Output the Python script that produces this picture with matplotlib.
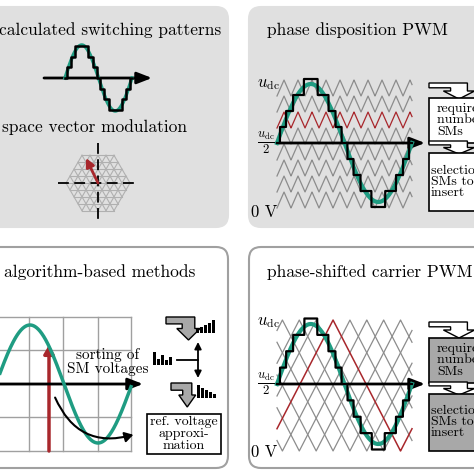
import numpy as np
import matplotlib.pyplot as plt
from matplotlib.patches import FancyBboxPatch, Polygon, FancyArrowPatch, Rectangle

plt.rcParams['font.family'] = ['cmr10', 'DejaVu Serif']
plt.rcParams['mathtext.fontset'] = 'cm'
plt.rcParams['axes.formatter.use_mathtext'] = True

TEAL = '#1f9c82'
RED = '#a8272c'
GRAY = '#8c8c8c'

titles = ['calculated switching patterns', 'phase disposition PWM',
          'algorithm-based methods', 'phase-shifted carrier PWM']
svm_label = 'space vector modulation'
box_texts = ['required\nnumber of\nSMs', 'selection of\nSMs to\ninsert']
sort_label = 'sorting of\nSM voltages'
approx_label = 'ref. voltage\napproxi-\nmation'
bars_sorted = [0.35, 0.5, 0.65, 0.8, 1.0]
bars_unsorted = [1.0, 0.5, 0.8, 0.35, 0.6]
bars_desc = [1.0, 0.8, 0.6, 0.45, 0.3]
n_levels_tl = 3
n_carriers = 8

fig = plt.figure(figsize=(4.74, 4.74), dpi=100)
ax = fig.add_axes([0, 0, 1, 1])
ax.set_xlim(0, 474)
ax.set_ylim(474, 0)
ax.axis('off')


def panel(x0, y0, x1, y1, fc, ec):
    ax.add_patch(FancyBboxPatch((x0, y0), x1 - x0, y1 - y0,
                                boxstyle='round,pad=0,rounding_size=12',
                                fc=fc, ec=ec, lw=1.5, zorder=0))


def harrow(x0, x1, y, lw=2):
    ax.annotate('', xy=(x1, y), xytext=(x0, y),
                arrowprops=dict(arrowstyle='-|>,head_length=0.9,head_width=0.35',
                                color='black', lw=lw, shrinkA=0, shrinkB=0), zorder=5)


def bend_arrow(x, y, w, h, fc):
    # block arrow: bar to the right, then down with head
    sx0, sx1 = x + 0.45 * w, x + 0.8 * w
    hx0, hx1 = x + 0.3 * w, x + 0.95 * w
    tip = ((hx0 + hx1) / 2, y + h)
    pts = [(x, y), (sx1, y), (sx1, y + 0.5 * h), (hx1, y + 0.5 * h), tip,
           (hx0, y + 0.5 * h), (sx0, y + 0.5 * h), (sx0, y + 0.3 * h), (x, y + 0.3 * h)]
    ax.add_patch(Polygon(pts, closed=True, fc=fc, ec='black', lw=1, zorder=5))


def bar_icon(x, y, vals, w=3.0, h=13):
    for i, v in enumerate(vals):
        ax.add_patch(Rectangle((x + i * (w + 1), y + h * (1 - v)), w, h * v,
                               fc='black', ec='none', zorder=5))


panel(-12, 7, 228, 227, '#e0e0e0', '#e0e0e0')
panel(249, 7, 490, 227, '#e0e0e0', '#e0e0e0')
panel(-12, 247, 228, 468, 'white', '#a0a0a0')
panel(249, 247, 490, 468, 'white', '#a0a0a0')

tfs = 12.5
ax.text(110, 30, titles[0], ha='center', va='center', fontsize=tfs)
ax.text(357, 30, titles[1], ha='center', va='center', fontsize=tfs)
ax.text(100, 272, titles[2], ha='center', va='center', fontsize=tfs)
ax.text(370, 272, titles[3], ha='center', va='center', fontsize=tfs)
ax.text(95, 127, svm_label, ha='center', va='center', fontsize=tfs)

# --- calculated switching patterns
harrow(44, 152, 78, lw=2)
t = np.linspace(0, 1, 400)
xs = 65 + 67 * t
sine = np.sin(2 * np.pi * t)
ax.plot(xs, 78 - 33 * sine, color=TEAL, lw=2.5, zorder=6)
stairs = np.round(sine * n_levels_tl) / n_levels_tl
ax.plot(xs, 78 - 32 * stairs, color='black', lw=1.8, zorder=7, drawstyle='steps-mid')

# --- space vector hexagon (triangular grid)
cx, cy, R = 98, 183, 32
k = 4
s = R / k
for i in range(-k, k + 1):
    for ang in (0, 60, 120):
        a = np.deg2rad(ang)
        d = np.array([np.cos(a), np.sin(a)])
        nrm = np.array([-d[1], d[0]])
        p = np.array([cx, cy]) + nrm * i * s * np.sqrt(3) / 2
        L = R * (1 - abs(i) / (2 * k))
        ax.plot([p[0] - d[0] * L, p[0] + d[0] * L], [p[1] - d[1] * L, p[1] + d[1] * L],
                color='#b0b0b0', lw=0.8, zorder=2)
ax.plot([58, 138], [cy, cy], color='black', lw=1.3, ls=(0, (6, 3)), zorder=3)
ax.plot([cx, cx], [143, 222], color='black', lw=1.3, ls=(0, (6, 3)), zorder=3)
ax.annotate('', xy=(86, 158), xytext=(cx, cy),
            arrowprops=dict(arrowstyle='-|>,head_length=0.5,head_width=0.25', color=RED, lw=2,
                            shrinkA=0, shrinkB=0), zorder=4)

# --- phase disposition PWM
x0, x1, ytop, ymid, ybot = 277, 412, 80, 143, 208
band = (ybot - ytop) / n_carriers
xc = np.linspace(x0, x1, 2000)
per = 14.0
tri = np.abs(((xc - x0) / per) % 1 - 0.5) * 2
for b in range(n_carriers):
    col = RED if b == 2 else GRAY
    ax.plot(xc, ytop + b * band + band * tri, color=col, lw=0.9, zorder=2)
tp = (xc - x0) / (x1 - x0)
ref = np.sin(2 * np.pi * tp)
amp = 59
ax.plot(xc, ymid - amp * ref, color=TEAL, lw=3, zorder=6)
lev = np.round(ref * amp / band) * band
ax.plot(xc, ymid - lev, color='black', lw=1.6, zorder=7)
harrow(277, 425, ymid, lw=2)
ax.text(268, 84, r'$u_{\mathrm{dc}}$', ha='center', va='center', fontsize=12)
ax.text(266, 143, r'$\frac{u_{\mathrm{dc}}}{2}$', ha='center', va='center', fontsize=13)
ax.text(264, 212, '0 V', ha='center', va='center', fontsize=12)
bend_arrow(429, 83, 48, 16, 'white')
ax.add_patch(Rectangle((429, 98), 60, 45, fc='white', ec='black', lw=1.2, zorder=5))
bend_arrow(429, 141, 48, 13, 'white')
ax.add_patch(Rectangle((429, 153), 60, 58, fc='white', ec='black', lw=1.2, zorder=5))
ax.text(437, 120, box_texts[0], ha='left', va='center', fontsize=10, zorder=6, linespacing=0.9)
ax.text(431, 182, box_texts[1], ha='left', va='center', fontsize=10, zorder=6, linespacing=0.9)

# --- algorithm-based methods
gx = [-4, 29, 63, 98, 131]
gy = [317, 350, 384, 417, 451]
for g in gx:
    ax.plot([g, g], [gy[0], gy[-1]], color='#a0a0a0', lw=1, zorder=2)
for g in gy:
    ax.plot([gx[0], gx[-1]], [g, g], color='#a0a0a0', lw=1, zorder=2)
xb = np.linspace(0, 131, 400)
ax.plot(xb, 384 - 59 * np.sin(2 * np.pi * (xb + 4) / 136), color=TEAL, lw=2.5, zorder=6)
ax.annotate('', xy=(49, 345), xytext=(49, 451),
            arrowprops=dict(arrowstyle='-|>,head_length=0.5,head_width=0.3', color=RED, lw=2.5,
                            shrinkA=0, shrinkB=0), zorder=5)
harrow(-4, 143, 384, lw=2)
ax.text(108, 362, sort_label, ha='center', va='center', fontsize=11, linespacing=0.95, zorder=8)
ax.add_patch(FancyArrowPatch((54, 395), (136, 434), connectionstyle='arc3,rad=0.45',
                             arrowstyle='-|>,head_length=5,head_width=3', color='black', lw=1.5, zorder=6))
ax.add_patch(Rectangle((147, 414), 74, 40, fc='white', ec='black', lw=1.2, zorder=5))
ax.text(184, 434, approx_label, ha='center', va='center', fontsize=10, linespacing=0.95, zorder=6)
bend_arrow(166, 317, 36, 23, '#a8a8a8')
bend_arrow(171, 383, 26, 24, '#a8a8a8')
bar_icon(196, 320, bars_sorted)
bar_icon(153, 352, bars_unsorted)
bar_icon(197, 385, bars_desc)
ax.plot([177, 198], [360, 360], color='black', lw=1.3, zorder=5)
ax.annotate('', xy=(198, 342), xytext=(198, 378),
            arrowprops=dict(arrowstyle='<|-|>,head_length=0.4,head_width=0.2', color='black', lw=1.3,
                            shrinkA=0, shrinkB=0), zorder=5)

# --- phase-shifted carrier PWM
y0b, ymb, y1b = 320, 384, 451
P = 135.0
for c in range(n_carriers):
    phase = c / n_carriers + 0.085
    tr = np.abs(((xc - x0) / P + phase) % 1 - 0.5) * 2
    col = RED if c == 0 else GRAY
    ax.plot(xc, y0b + (y1b - y0b) * tr, color=col, lw=0.9 if c else 1.1, zorder=3 if c == 0 else 2)
amp2 = 60
ref2 = np.sin(2 * np.pi * tp)
ax.plot(xc, ymb - amp2 * ref2, color=TEAL, lw=3, zorder=6)
band2 = (y1b - y0b) / n_carriers
lev2 = np.round(ref2 * amp2 / band2) * band2
ax.plot(xc, ymb - lev2, color='black', lw=1.6, zorder=7)
harrow(277, 425, ymb, lw=2)
ax.text(268, 322, r'$u_{\mathrm{dc}}$', ha='center', va='center', fontsize=12)
ax.text(266, 384, r'$\frac{u_{\mathrm{dc}}}{2}$', ha='center', va='center', fontsize=13)
ax.text(264, 452, '0 V', ha='center', va='center', fontsize=12)
bend_arrow(429, 322, 48, 16, 'white')
ax.add_patch(Rectangle((429, 338), 60, 45, fc='#a8a8a8', ec='black', lw=1.2, zorder=5))
bend_arrow(429, 382, 48, 13, 'white')
ax.add_patch(Rectangle((429, 394), 60, 57, fc='#a8a8a8', ec='black', lw=1.2, zorder=5))
ax.text(437, 360, box_texts[0], ha='left', va='center', fontsize=10, zorder=6, linespacing=0.9)
ax.text(431, 422, box_texts[1], ha='left', va='center', fontsize=10, zorder=6, linespacing=0.9)

fig.savefig('out.png', dpi=100)
